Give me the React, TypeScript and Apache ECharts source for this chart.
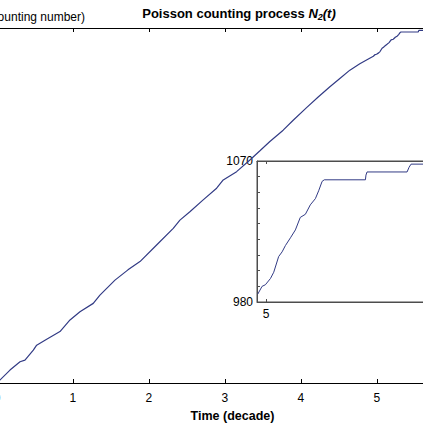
import React, { useEffect, useRef } from "react";
import * as echarts from "echarts";

// Counting process N2(t): event count against time (decades), read as points along the path
const earlyTimes = [0, 0.171, 0.303, 0.368, 0.478, 0.522, 0.654, 0.829, 0.961, 1.092, 1.267, 1.355, 1.553, 1.724, 1.882, 2.101, 2.32, 2.408, 2.539, 2.714, 2.891, 2.978, 3.154, 3.329, 3.461, 3.592, 3.767, 3.899, 4.075, 4.228, 4.382, 4.513, 4.645, 4.776, 4.9];
const earlyCounts = [0, 39, 64, 69, 99, 114, 132, 155, 190, 215, 240, 265, 310, 341, 366, 416, 466, 491, 516, 552, 587, 612, 637, 672, 700, 728, 762, 792, 830, 862, 893, 918, 943, 962, 978];

// Final stretch, also shown magnified in the inset
const tailTimes = [4.954, 4.978, 4.996, 5.024, 5.042, 5.069, 5.088, 5.106, 5.134, 5.161, 5.188, 5.216, 5.243, 5.271, 5.289, 5.308, 5.32, 5.546, 5.549, 5.555, 5.775, 5.786, 5.797, 6.2];
const tailCounts = [985, 990, 991, 995, 999, 1009, 1012, 1016, 1021, 1026, 1034, 1036, 1042, 1046, 1051, 1057, 1058, 1058, 1061, 1063, 1063, 1066, 1068, 1068];

const mainTicks = [0, 1, 2, 3, 4, 5];
const insetXTicks = [5];
const insetYLabels = [980, 1070];

const FONT = '"Liberation Sans", Arial, Helvetica, sans-serif';
const LINE = "#323b85";

export default function App() {
  const ref = useRef<HTMLDivElement>(null);

  useEffect(() => {
    if (!ref.current) return;
    const chart = echarts.init(ref.current, null, { renderer: "svg" });

    const mainData = [
      ...earlyTimes.map((t, i) => [t, earlyCounts[i]]),
      ...tailTimes.map((t, i) => [t, tailCounts[i]]),
    ];
    const insetData = tailTimes.map((t, i) => [t, tailCounts[i]]);

    chart.setOption({
      animation: false,
      backgroundColor: "#fff",
      textStyle: { fontFamily: FONT },
      title: {
        text: "Poisson counting process {i|N}{s|2}{i|(t)}",
        left: 234,
        top: 0,
        textAlign: "center",
        textStyle: {
          fontFamily: FONT,
          fontSize: 13,
          fontWeight: "bold",
          color: "#000",
          rich: {
            i: { fontFamily: FONT, fontSize: 13, fontWeight: "bold", fontStyle: "italic", color: "#000" },
            s: { fontFamily: FONT, fontSize: 9, fontWeight: "bold", fontStyle: "italic", color: "#000", padding: [7, 0, 0, 0] },
          },
        },
      },
      graphic: [
        {
          type: "text",
          x: 85,
          y: 17,
          style: {
            text: "(counting number)",
            align: "right",
            verticalAlign: "middle",
            fontFamily: FONT,
            fontSize: 12,
            fill: "#000",
          },
        },
      ],
      grid: [
        { left: -3, top: 28, width: 471, height: 355, show: false, outerBoundsMode: "none", containLabel: false },
        {
          left: 257,
          top: 161,
          width: 191,
          height: 141,
          show: true,
          borderColor: "#4d4d4d",
          borderWidth: 1,
          backgroundColor: "#fff",
          outerBoundsMode: "none",
          containLabel: false,
        },
      ],
      xAxis: [
        {
          gridIndex: 0,
          type: "value",
          min: 0,
          max: 6.2,
          position: "bottom",
          axisLine: { lineStyle: { color: "#000", width: 1 } },
          axisTick: { inside: true, length: 4, customValues: mainTicks, lineStyle: { color: "#000" } },
          axisLabel: { customValues: mainTicks, margin: 9, fontSize: 12, color: "#000", fontFamily: FONT },
          splitLine: { show: false },
          name: "Time (decade)",
          nameLocation: "middle",
          nameGap: 26,
          nameTextStyle: { fontFamily: FONT, fontSize: 12.5, fontWeight: "bold", color: "#000" },
        },
        {
          gridIndex: 0,
          type: "value",
          min: 0,
          max: 6.2,
          position: "top",
          axisLine: { lineStyle: { color: "#000", width: 1 } },
          axisTick: { inside: true, length: 4, customValues: mainTicks, lineStyle: { color: "#000" } },
          axisLabel: { show: false },
          splitLine: { show: false },
        },
        {
          gridIndex: 1,
          type: "value",
          min: 4.95,
          max: 6,
          position: "bottom",
          axisLine: { lineStyle: { color: "#4d4d4d", width: 1 } },
          axisTick: { inside: true, length: 3, customValues: insetXTicks, lineStyle: { color: "#4d4d4d" } },
          axisLabel: { customValues: insetXTicks, margin: 6, fontSize: 12, color: "#000", fontFamily: FONT },
          splitLine: { show: false },
        },
        {
          gridIndex: 1,
          type: "value",
          min: 4.95,
          max: 6,
          position: "top",
          axisLine: { lineStyle: { color: "#4d4d4d", width: 1 } },
          axisTick: { inside: true, length: 3, customValues: insetXTicks, lineStyle: { color: "#4d4d4d" } },
          axisLabel: { show: false },
          splitLine: { show: false },
        },
      ],
      yAxis: [
        {
          gridIndex: 0,
          type: "value",
          min: 0,
          max: 1070,
          interval: 100,
          axisLine: { show: false },
          axisTick: { show: false },
          axisLabel: { show: false },
          splitLine: { show: false },
        },
        {
          gridIndex: 1,
          type: "value",
          min: 980,
          max: 1070,
          interval: 10,
          axisLine: { lineStyle: { color: "#4d4d4d", width: 1 } },
          axisTick: { inside: true, length: 3, lineStyle: { color: "#4d4d4d" } },
          axisLabel: {
            customValues: insetYLabels,
            formatter: (v: number) => String(v),
            margin: 4,
            fontSize: 12,
            color: "#000",
            fontFamily: FONT,
          },
          splitLine: { show: false },
        },
      ],
      series: [
        {
          type: "line",
          xAxisIndex: 0,
          yAxisIndex: 0,
          data: mainData,
          showSymbol: false,
          lineStyle: { color: LINE, width: 1.2 },
        },
        {
          type: "line",
          xAxisIndex: 2,
          yAxisIndex: 1,
          data: insetData,
          showSymbol: false,
          lineStyle: { color: LINE, width: 1 },
          z: 5,
        },
      ],
    });

    return () => chart.dispose();
  }, []);

  return <div ref={ref} style={{ width: 423, height: 423, position: "fixed", left: 0, top: 0 }} />;
}
